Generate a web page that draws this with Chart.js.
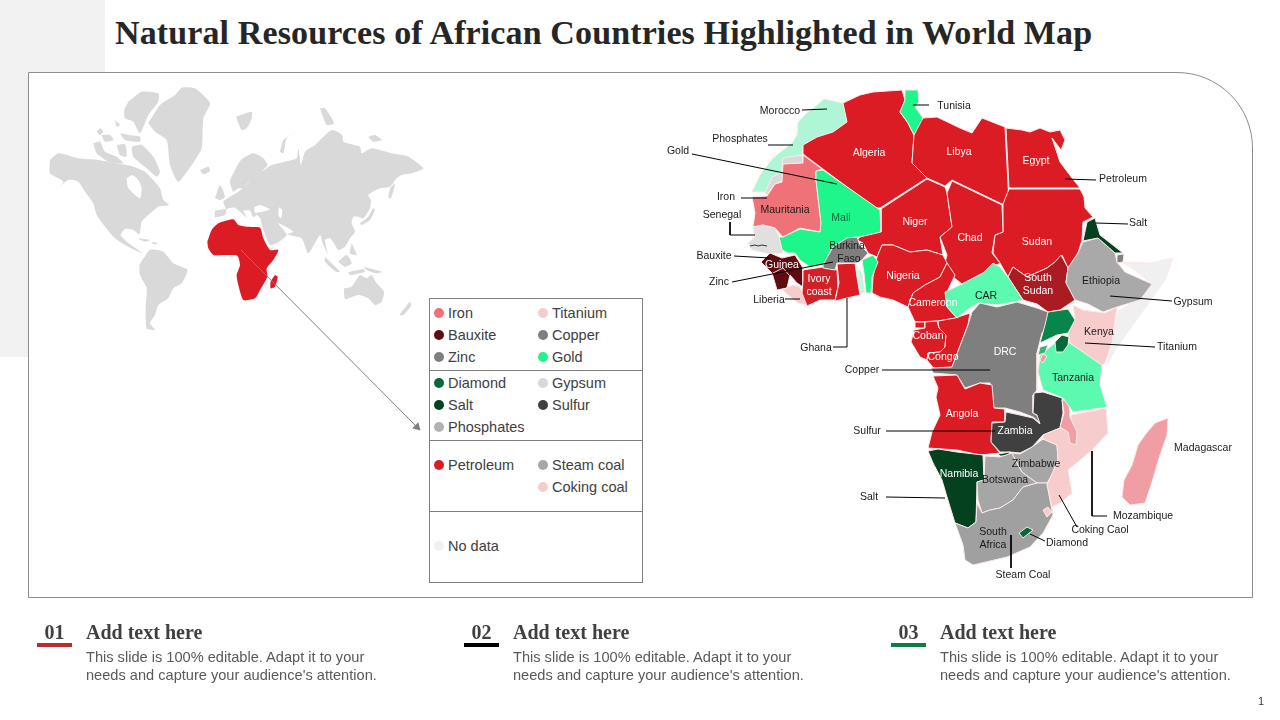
<!DOCTYPE html>
<html>
<head>
<meta charset="utf-8">
<script src="https://cdn.jsdelivr.net/npm/chart.js@4/dist/chart.umd.min.js"></script>
<style>
    html, body { margin: 0; padding: 0; background: #fff; }
    #page { position: relative; width: 1280px; height: 720px; overflow: hidden; font-family: "Liberation Sans", Arial, sans-serif; }
    #page > * { position: absolute; }
    #band { left: 0; top: 0; width: 105px; height: 357px; background: #f2f2f2; }
    #frame { left: 28px; top: 72px; width: 1223px; height: 524px; background: #fff; border: 1px solid #8c8c8c; border-top-right-radius: 76px; }
    #map { left: 0; top: 0; }
    h1 { margin: 0; left: 115px; top: 14px; font: bold 34px "Liberation Serif", serif; letter-spacing: 0.12px; color: #262626; white-space: nowrap; }
    #legend { left: 429px; top: 298px; width: 212px; height: 283px; border: 1px solid #7f7f7f; background: #fff; color: #404040; font-size: 14.5px; }
    .group { position: absolute; left: 0; right: 0; border-bottom: 1px solid #7f7f7f; box-sizing: border-box; }
    .group:last-child { border-bottom: 0; }
    .item { position: absolute; white-space: nowrap; line-height: 22px; padding-left: 18px; }
    .dot { position: absolute; left: 4px; top: 6px; width: 10px; height: 10px; border-radius: 50%; }
    .num { font: bold 20px "Liberation Serif", serif; color: #404040; width: 35px; text-align: center; top: 621px; }
    .bar { width: 35px; height: 4px; top: 643px; }
    .head { font: bold 20px "Liberation Serif", serif; color: #404040; top: 621px; }
    .body { font-size: 14.6px; line-height: 18px; color: #595959; top: 648px; white-space: nowrap; }
    #pageno { left: 1258px; top: 695px; font-size: 11px; color: #404040; }
</style>
</head>
<body>
<div id="page">
    <div id="band"></div>
    <div id="frame"></div>
    <h1>Natural Resources of African Countries Highlighted in World Map</h1>
    <canvas id="map" width="1280" height="720"></canvas>
    <div id="legend"></div>
    <div id="pageno">1</div>
</div>
<script>
// outlines, africa in page units
const morocco = [[843,103],[824,99],[817,105],[807,113],[798,122],[797,135],[792,143],[773,158],[760,175],[752,192],[767,192],[772,177],[782,173],[783,158],[802,155],[803,145],[817,137],[833,132],[847,122]];
const westernSahara = [[767,195],[775,184],[782,181],[783,164],[803,163],[802,155],[783,158],[781,173],[772,177],[765,193]];
const mauritania = [[803,155],[822,169],[816,171],[816,180],[821,223],[820,232],[800,228],[783,237],[775,228],[763,225],[753,227],[755,213],[752,197],[767,196],[775,184],[782,182],[783,164],[803,163]];
const mali = [[816,171],[823,170],[880,210],[881,232],[860,237],[847,238],[833,247],[823,265],[810,267],[800,260],[795,253],[788,253],[782,250],[779,237],[783,237],[800,229],[820,232],[821,223],[816,180]];
const algeria = [[843,103],[860,95],[873,92],[902,90],[905,100],[900,112],[908,123],[914,135],[912,163],[927,178],[880,208],[875,208],[823,169],[803,154],[803,145],[817,137],[833,132],[847,122]];
const tunisia = [[905,90],[918,90],[919,102],[915,107],[923,118],[914,135],[908,123],[900,112],[905,100]];
const niger = [[881,209],[881,232],[860,237],[857,240],[863,243],[868,253],[877,257],[882,245],[893,245],[910,252],[927,250],[943,255],[940,237],[952,227],[947,193],[945,187],[927,179]];
const libya = [[914,135],[923,118],[937,117],[960,128],[972,133],[982,118],[1005,127],[1009,203],[1002,204],[952,180],[945,186],[927,178],[912,163]];
const egypt = [[1006,128],[1022,130],[1030,132],[1040,128],[1050,132],[1060,130],[1065,140],[1061,150],[1052,138],[1060,162],[1072,178],[1080,188],[1009,188]];
const sudan = [[1009,189],[1080,189],[1084,197],[1085,208],[1093,217],[1083,222],[1082,240],[1078,253],[1068,268],[1062,255],[1055,262],[1047,268],[1027,277],[1013,267],[1008,277],[1000,263],[993,253],[995,235],[1003,232],[1003,204]];
const southSudan = [[1013,267],[1027,277],[1047,268],[1055,262],[1061,255],[1068,268],[1066,282],[1075,300],[1060,310],[1048,312],[1037,304],[1023,300],[1008,277]];
const chad = [[952,181],[1002,205],[1003,232],[995,235],[992,253],[1000,263],[983,273],[962,284],[953,277],[943,270],[947,255],[940,237],[952,227],[947,193]];
const nigeria = [[882,245],[893,245],[910,252],[927,250],[943,255],[947,263],[940,277],[925,285],[913,293],[908,307],[893,300],[880,297],[872,293],[873,277],[877,257]];
const cameroon = [[947,263],[955,275],[947,292],[947,307],[957,318],[938,321],[915,322],[908,307],[913,293],[925,285],[940,277]];
const eqGuinea = [[915,322],[925,322],[925,328],[915,328]];
const gabon = [[925,322],[937,321],[939,328],[946,335],[945,347],[940,352],[928,353],[927,360],[920,357],[911,342],[914,330],[925,328]];
const congo = [[938,321],[955,318],[970,313],[968,325],[963,338],[952,367],[935,370],[931,365],[927,360],[928,353],[940,352],[945,347],[946,335],[939,328]];
const car = [[962,284],[983,273],[993,263],[1000,267],[1008,277],[1023,300],[998,305],[978,303],[967,310],[957,318],[947,307],[945,292]];
const drc = [[972,312],[980,303],[997,307],[1017,302],[1037,308],[1048,312],[1050,323],[1042,333],[1037,353],[1037,390],[1033,395],[1033,413],[1040,417],[1040,423],[1033,417],[1020,412],[1005,408],[993,408],[990,383],[980,383],[965,388],[957,375],[933,373],[931,368],[952,367],[963,338],[968,325]];
const angola = [[933,376],[957,375],[965,389],[980,383],[992,385],[994,408],[1005,409],[1005,422],[992,422],[991,442],[1000,453],[980,455],[957,450],[928,448],[932,432],[940,415],[936,397],[938,388]];
const zambia = [[1006,412],[1020,415],[1033,418],[1040,424],[1037,415],[1033,413],[1034,393],[1043,392],[1062,398],[1063,413],[1060,428],[1043,435],[1032,447],[1020,453],[1010,452],[1000,452],[991,442],[992,423],[1005,422]];
const namibia = [[928,451],[938,449],[957,452],[983,455],[984,480],[977,482],[976,522],[968,528],[955,523],[947,497],[942,480],[933,463]];
const caprivi = [[998,454],[1010,452],[1008,456],[1000,456]];
const botswana = [[985,456],[1000,457],[1012,453],[1017,463],[1022,472],[1037,483],[1023,487],[1013,500],[1000,508],[990,510],[982,513],[978,500],[977,482],[984,480]];
const zimbabwe = [[1012,453],[1020,454],[1032,447],[1043,439],[1057,445],[1058,460],[1053,473],[1047,483],[1037,483],[1022,472],[1017,463]];
const southAfrica = [[982,513],[990,510],[1000,508],[1013,500],[1023,487],[1037,483],[1047,483],[1050,500],[1053,515],[1043,533],[1030,547],[1007,557],[973,565],[965,560],[963,545],[955,523],[968,528],[976,522],[977,503]];
const lesotho = [[1019,533],[1027,527],[1033,530],[1023,538]];
const mozambique = [[1043,435],[1060,428],[1071,431],[1071,415],[1106,408],[1108,433],[1092,450],[1068,470],[1072,493],[1060,503],[1052,507],[1047,485],[1058,460],[1057,445],[1043,439]];
const swaziland = [[1043,510],[1048,507],[1052,512],[1047,517]];
const malawi = [[1062,400],[1069,400],[1070,417],[1077,432],[1076,445],[1070,443],[1068,432],[1060,427],[1064,413]];
const tanzania = [[1040,355],[1055,343],[1070,343],[1102,365],[1100,385],[1107,407],[1073,412],[1063,398],[1043,390],[1038,372]];
const kenya = [[1070,343],[1068,333],[1075,318],[1073,305],[1083,310],[1105,313],[1117,307],[1112,343],[1105,363],[1102,365]];
const somalia = [[1122,262],[1135,270],[1152,284],[1138,300],[1120,310],[1117,315],[1112,345],[1107,365],[1115,350],[1140,315],[1165,280],[1173,258],[1150,263]];
const ethiopia = [[1083,242],[1098,238],[1115,253],[1117,262],[1125,272],[1152,284],[1140,300],[1117,307],[1103,312],[1088,304],[1075,300],[1066,283],[1068,268],[1078,253]];
const eritrea = [[1087,222],[1095,218],[1100,235],[1123,253],[1115,253],[1098,238],[1083,241]];
const djibouti = [[1117,255],[1124,254],[1123,262],[1117,263]];
const uganda = [[1048,312],[1068,309],[1075,320],[1068,333],[1057,335],[1040,343],[1045,325]];
const victoria = [[1055,342],[1062,335],[1069,337],[1068,345],[1063,352],[1056,352]];
const rwanda = [[1040,347],[1048,345],[1045,353],[1038,355]];
const burundi = [[1043,354],[1047,356],[1043,363],[1040,360]];
const senegal = [[753,227],[763,225],[775,228],[779,237],[782,250],[783,253],[770,254],[752,250],[748,243],[755,237]];
const gambia = [[750,246],[755,245],[758,246],[762,245],[767,246]];
const guinea = [[761,262],[770,253],[782,258],[795,255],[803,268],[803,287],[797,283],[790,275],[787,288],[777,290],[772,273]];
const sierraLeone = [[773,273],[783,268],[789,275]];
const liberia = [[783,290],[788,287],[793,285],[800,287],[805,297],[807,305],[798,303],[788,295]];
const ivoryCoast = [[803,270],[823,267],[837,270],[838,287],[835,300],[820,300],[807,306],[802,293],[803,280]];
const ghana = [[837,264],[855,263],[857,277],[860,295],[847,298],[835,301],[839,283]];
const togo = [[857,267],[862,273],[865,293],[860,293],[858,280]];
const benin = [[862,260],[873,255],[878,262],[872,277],[871,293],[866,293],[864,273]];
const burkinaFaso = [[823,265],[833,247],[847,238],[857,237],[860,245],[868,253],[862,260],[857,263],[837,263],[835,270],[823,268]];
const madagascar = [[1168,418],[1155,423],[1145,435],[1138,445],[1132,465],[1124,480],[1122,497],[1130,505],[1145,503],[1152,482],[1160,455],[1167,435]];

// small world map, in its own units (3 to the page pixel)
const northAmerica = [[60,255],[85,235],[145,250],[205,255],[260,265],[310,275],[345,290],[365,310],[390,340],[400,375],[417,390],[385,395],[355,420],[335,440],[328,478],[310,465],[285,462],[272,480],[290,500],[325,525],[335,535],[320,528],[285,510],[255,490],[225,455],[200,420],[190,385],[165,350],[145,320],[115,315],[70,350],[100,320],[60,295]];
const hudsonBay = [[290,310],[307,300],[325,315],[335,340],[330,370],[295,340]];
const victoriaIsland = [[190,205],[210,200],[225,230],[260,245],[280,265],[235,260],[200,235]];
const baffin = [[305,215],[335,210],[370,245],[390,290],[380,305],[350,280],[310,245]];
const banks = [[260,210],[285,208],[290,245],[270,240]];
const melville = [[215,180],[240,180],[250,195],[225,200]];
const devon = [[270,175],[295,180],[330,185],[330,200],[285,195]];
const prince = [[200,170],[210,160],[220,170],[210,180]];
const axelHeiberg = [[255,135],[270,150],[260,155]];
const ellesmere = [[295,80],[335,50],[385,55],[385,80],[355,120],[330,175],[310,140],[285,130],[283,105]];
const greenland = [[355,145],[390,90],[435,60],[455,38],[495,40],[540,85],[520,130],[515,220],[485,270],[445,320],[420,270],[410,195],[375,170]];
const iceland = [[510,285],[535,275],[540,288],[520,298]];
const svalbard = [[618,125],[665,110],[665,130],[650,160],[635,165]];
const severnaya = [[870,100],[885,100],[912,145],[890,150]];
const novaya = [[750,230],[760,195],[797,170],[770,190],[760,235]];
const newSiberia = [[1015,185],[1035,180],[1055,195],[1030,200]];
const eurasia = [[555,427],[555,407],[587,401],[580,380],[603,363],[625,350],[650,330],[660,315],[640,340],[625,340],[610,350],[600,320],[610,295],[633,255],[670,235],[700,250],[712,270],[695,290],[725,270],[765,260],[800,250],[805,220],[813,270],[825,230],[855,210],[905,165],[937,180],[940,200],[990,215],[995,235],[1025,220],[1085,235],[1135,245],[1180,280],[1145,295],[1115,300],[1100,310],[1080,335],[1050,340],[1015,360],[1023,375],[1020,400],[1000,430],[985,425],[970,425],[965,445],[975,470],[960,490],[945,515],[925,525],[912,505],[900,490],[885,495],[893,535],[878,505],[870,480],[835,535],[815,490],[770,478],[790,470],[745,445],[770,480],[747,500],[720,510],[695,450],[692,432],[680,420],[670,427],[660,407],[640,407],[650,427],[615,398],[590,402],[585,420]];
const blackSea = [[673,397],[690,390],[720,403],[710,407],[675,413]];
const caspian = [[747,397],[757,405],[753,430],[745,420]];
const britain = [[555,370],[570,330],[585,365],[570,375]];
const japan = [[1035,405],[1020,435],[995,450],[990,445],[1015,425],[1030,400]];
const sakhalin = [[1080,340],[1095,325],[1083,370],[1075,367]];
const sumatra = [[885,545],[930,590],[918,590],[885,560]];
const borneo = [[925,560],[950,540],[965,565],[945,575]];
const java = [[955,592],[1000,582],[1005,590],[960,600]];
const newGuinea = [[1000,575],[1055,590],[1040,595],[1010,585]];
const philippines = [[965,505],[980,540],[960,535]];
const cuba = [[320,490],[360,495],[345,500]];
const hispaniola = [[365,500],[385,505],[370,508]];
const australia = [[942,640],[965,635],[990,600],[1010,610],[1025,600],[1040,625],[1062,650],[1055,680],[1035,690],[1015,670],[985,660],[945,672]];
const newZealand = [[1108,720],[1140,680],[1143,692],[1120,720]];
const southAmerica = [[328,570],[360,525],[400,530],[430,565],[472,585],[455,625],[430,640],[415,670],[385,690],[375,720],[360,745],[375,765],[350,760],[347,700],[350,640],[330,600]];
const africaWorld = [[532,500],[545,465],[565,445],[610,433],[625,450],[650,455],[690,458],[700,490],[720,525],[745,525],[730,555],[710,580],[712,605],[690,645],[675,670],[640,675],[625,630],[620,600],[630,570],[622,542],[580,540],[550,540],[535,520]];
const madagascarWorld = [[735,600],[743,605],[735,635],[722,640],[722,620]];

// leader lines
const moroccoLeader = [[802,110],[827,109]];
const tunisiaLeader = [[913,105],[929,105]];
const phosphatesLeader = [[768,145],[793,145]];
const goldLeader = [[692,154],[837,184]];
const ironLeader = [[741,198],[767,198]];
const senegalLeader = [[730,222],[730,235],[755,235]];
const bauxiteLeader = [[734,256],[770,258]];
const zincLeader = [[732,282],[833,262]];
const liberiaLeader = [[785,299],[800,299]];
const ghanaLeader = [[833,347],[847,347],[847,298]];
const copperLeader = [[882,370],[990,370]];
const sulfurLeader = [[886,431],[995,431]];
const saltLeader = [[886,497],[945,498]];
const petroleumLeader = [[1065,179],[1096,180]];
const saltEastLeader = [[1096,223],[1128,224]];
const gypsumLeader = [[1110,296],[1172,301]];
const titaniumLeader = [[1085,343],[1155,347]];
const mozambiqueLeader = [[1092,451],[1092,516],[1107,516]];
const cokingLeader = [[1059,495],[1077,527]];
const diamondLeader = [[1030,534],[1045,541]];
const steamLeader = [[1011,535],[1011,568]];
const arrowLine = [[241,250],[417,427]];

// labels on the map
const labelNames = ["Morocco","Tunisia","Phosphates","Gold","Iron","Senegal","Bauxite","Zinc","Liberia","Ghana","Copper","Sulfur","Salt","Petroleum","Salt","Gypsum","Titanium","Madagascar","Mozambique","Coking Caol","Diamond","Steam Coal","Algeria","Libya","Egypt","Niger","Chad","Sudan","South","Sudan","Nigeria","Cameroon","Coban","Congo","DRC","Angola","Zambia","Namibia","Guinea","Ivory","coast","Mauritania","Mali","Burkina","Faso","CAR","Ethiopia","Kenya","Tanzania","Zimbabwe","Botswana","South","Africa"];
const labelX = [780,954,740,678,726,722,714,719,769,816,862,867,869,1123,1138,1193,1177,1203,1143,1100,1067,1023,869,959,1036,915,970,1037,1038,1038,903,933,928,943,1005,962,1015,959,782,819,819,785,841,847,849,986,1101,1099,1073,1036,1005,993,993];
const labelY = [111,106,139,151,197,215,256,282,300,348,370,431,497,179,223,302,347,448,516,530,543,575,153,152,161,222,238,242,278,291,276,303,336,357,352,414,431,474,265,279,292,210,218,246,259,296,281,332,378,464,480,532,545];
const darkLabels = ["Morocco","Tunisia","Phosphates","Gold","Iron","Senegal","Bauxite","Zinc","Liberia","Ghana","Copper","Sulfur","Petroleum","Gypsum","Titanium","Madagascar","Mozambique","Coking Caol","Diamond","Steam Coal","Mauritania","Burkina","Faso","CAR","Ethiopia","Kenya","Tanzania","Zimbabwe","Botswana","Africa"];

// legend
const legendNames = [["Iron","Titanium","Bauxite","Copper","Zinc","Gold"],["Diamond","Gypsum","Salt","Sulfur","Phosphates"],["Petroleum","Steam coal","","Coking coal"],["No data"]];
const legendColors = {"Iron":"#ee7277","Titanium":"#f6cccc","Bauxite":"#5f0b10","Copper":"#7f7f7f","Zinc":"#7f7f7f","Gold":"#1ef58b","Diamond":"#06693a","Gypsum":"#d9d9d9","Salt":"#04411f","Sulfur":"#404040","Phosphates":"#b2b2b2","Petroleum":"#dc1c24","Steam coal":"#a6a6a6","Coking coal":"#f6cccc","No data":"#f0f0f0"};

// footer
const footerNumbers = ["01","02","03"];
const footerColors = ["#b92b33","#000000","#0f7a45"];
const footerHead = "Add text here";
const footerBody = "This slide is 100% editable. Adapt it to your<br>needs and capture your audience's attention.";

const shapes = [
    [somalia, "#f0f0f0"], [morocco, "#aef6d6"], [westernSahara, "#d9d9d9"], [mauritania, "#ee7277"], [algeria, "#dc1c24"], [mali, "#1ef58b"], [tunisia, "#1ef58b"],
    [niger, "#dc1c24"], [libya, "#dc1c24"], [egypt, "#dc1c24"], [sudan, "#dc1c24"], [chad, "#dc1c24"], [nigeria, "#dc1c24"], [cameroon, "#dc1c24"], [eqGuinea, "#dc1c24"], [gabon, "#dc1c24"], [congo, "#dc1c24"],
    [southSudan, "#ab1b22"], [car, "#5bfab0"], [drc, "#7f7f7f"], [angola, "#dc1c24"], [zambia, "#404040"], [namibia, "#04411f"], [caprivi, "#04411f"], [botswana, "#a6a6a6"], [zimbabwe, "#a6a6a6"], [southAfrica, "#a0a0a0"], [lesotho, "#06693a"],
    [mozambique, "#f6cccc"], [swaziland, "#f6cccc"], [malawi, "#ef9fa3"], [tanzania, "#5bfab0"], [kenya, "#f6cccc"], [ethiopia, "#a9a9a9"], [eritrea, "#04411f"], [djibouti, "#7f7f7f"],
    [uganda, "#07854a"], [victoria, "#06693a"], [rwanda, "#3cb37a"], [burundi, "#f0999c"], [senegal, "#e0e0e0"], [guinea, "#5f0b10"], [liberia, "#f6cccc"], [ivoryCoast, "#d02028"], [ghana, "#dc1c24"], [togo, "#c4f7df"], [benin, "#1ef58b"], [burkinaFaso, "#7f7f7f"], [madagascar, "#f09ea3"]
];
const worldShapes = [northAmerica, victoriaIsland, baffin, banks, melville, devon, prince, axelHeiberg, ellesmere, greenland, iceland, svalbard, severnaya, novaya, newSiberia, eurasia, britain, japan, sakhalin, sumatra, borneo, java, newGuinea, philippines, cuba, hispaniola, australia, newZealand, southAmerica];
const worldHoles = [hudsonBay, blackSea, caspian];
const leaders = [moroccoLeader, tunisiaLeader, phosphatesLeader, goldLeader, ironLeader, senegalLeader, bauxiteLeader, zincLeader, liberiaLeader, ghanaLeader, copperLeader, sulfurLeader, saltLeader, petroleumLeader, saltEastLeader, gypsumLeader, titaniumLeader, mozambiqueLeader, cokingLeader, diamondLeader, steamLeader];

function polygon(points, color, border, world) {
    return {
        data: points.concat([points[0]]),
        showLine: true,
        fill: "shape",
        backgroundColor: color,
        borderColor: border,
        borderWidth: border === "transparent" ? 0 : 1,
        pointRadius: 0,
        tension: world ? 0.2 : 0,
        xAxisID: world ? "wx" : "x",
        yAxisID: world ? "wy" : "y"
    };
}

function polyline(points, color, width) {
    return {
        data: points,
        showLine: true,
        fill: false,
        borderColor: color,
        borderWidth: width,
        pointRadius: 0,
        tension: 0,
        xAxisID: "x",
        yAxisID: "y"
    };
}

const datasets = [];
for (const shape of worldShapes) {
    datasets.push(polygon(shape, "#d9d9d9", "transparent", true));
}
for (const hole of worldHoles) {
    datasets.push(polygon(hole, "#ffffff", "transparent", true));
}
datasets.push(polygon(africaWorld, "#dc1c24", "transparent", true));
datasets.push(polygon(madagascarWorld, "#dc1c24", "transparent", true));
for (const shape of shapes) {
    datasets.push(polygon(shape[0], shape[1], "#fbe9e9", false));
}
datasets.push(polyline(sierraLeone, "#f6cccc", 1));
datasets.push(polyline(gambia, "#333333", 1));
for (const leader of leaders) {
    datasets.push(polyline(leader, "#000000", 1));
}
const arrow = polyline(arrowLine, "#7f7f7f", 1);
arrow.pointStyle = "triangle";
arrow.pointRadius = [0, 5];
arrow.pointRotation = 135;
arrow.pointBackgroundColor = "#7f7f7f";
arrow.pointBorderWidth = 0;
datasets.push(arrow);

// first dataset drawn first
datasets.forEach((d, i) => { d.order = datasets.length - i; });

const mapLabels = {
    id: "mapLabels",
    afterDraw(chart) {
        const ctx = chart.ctx;
        const x = chart.scales.x;
        const y = chart.scales.y;
        ctx.save();
        ctx.font = '10.5px "Liberation Sans", Arial, sans-serif';
        ctx.textAlign = "center";
        ctx.textBaseline = "middle";
        for (let i = 0; i < labelNames.length; i++) {
            const name = labelNames[i];
            let color = darkLabels.includes(name) ? "#1a1a1a" : "#ffffff";
            if (name === "Salt" || (name === "South" && i > 40)) color = "#1a1a1a";
            if (name === "Mali") color = "#0f6b3f";
            ctx.fillStyle = color;
            ctx.fillText(name, x.getPixelForValue(labelX[i]), y.getPixelForValue(labelY[i]));
        }
        ctx.restore();
    }
};

new Chart(document.getElementById("map").getContext("2d"), {
    type: "scatter",
    data: {datasets: datasets},
    plugins: [mapLabels],
    options: {
        responsive: false,
        animation: false,
        events: [],
        layout: {padding: 0, autoPadding: false},
        plugins: {legend: {display: false}, tooltip: {enabled: false}},
        scales: {
            x: {type: "linear", display: false, min: 0, max: 1280},
            y: {type: "linear", display: false, min: 0, max: 720, reverse: true},
            wx: {type: "linear", display: false, min: -90, max: 3750},
            wy: {type: "linear", display: false, min: -225, max: 1935, reverse: true}
        }
    }
});

// html legend and footer
const groupTops = [0, 72, 142, 213];
const groupHeights = [72, 70, 71, 70];
const legend = document.getElementById("legend");
legendNames.forEach((names, g) => {
    const group = document.createElement("div");
    group.className = "group";
    group.style.top = groupTops[g] + "px";
    group.style.height = groupHeights[g] + "px";
    const first = g === 2 ? 13 : (g === 3 ? 23 : (g === 1 ? 1 : 3));
    names.forEach((name, i) => {
        if (!name) return;
        const item = document.createElement("div");
        item.className = "item";
        item.style.left = (i % 2 ? 104 : 0) + "px";
        item.style.top = (first + 22 * Math.floor(i / 2)) + "px";
        item.innerHTML = '<span class="dot" style="background:' + legendColors[name] + '"></span>' + name;
        group.appendChild(item);
    });
    legend.appendChild(group);
});

const page = document.getElementById("page");
footerNumbers.forEach((num, i) => {
    const left = 37 + 427 * i;
    const parts = [
        ["num", left, num],
        ["bar", left, ""],
        ["head", left + 49, footerHead],
        ["body", left + 49, footerBody]
    ];
    for (const part of parts) {
        const el = document.createElement("div");
        el.className = part[0];
        el.style.left = part[1] + "px";
        el.innerHTML = part[2];
        if (part[0] === "bar") el.style.background = footerColors[i];
        page.appendChild(el);
    }
});
</script>
</body>
</html>
